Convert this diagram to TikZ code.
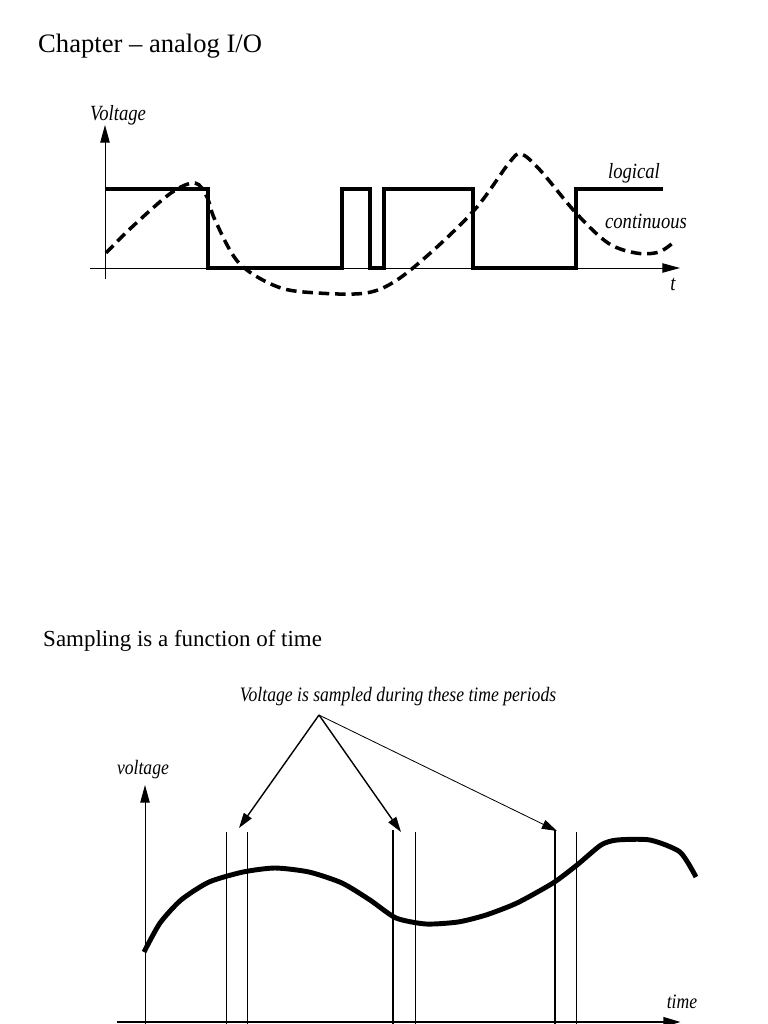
\documentclass[tikz,border=0pt]{standalone}
\usepackage{fontspec}
\setmainfont{Liberation Serif}
\newfontfamily\narrowfont[FakeStretch=0.86]{Liberation Serif}
\usetikzlibrary{arrows.meta}
\tikzset{
  axisline/.style={line width=0.8pt, -{Triangle[length=15pt, width=8pt]}},
  logicline/.style={line width=3.4pt, line join=miter},
  contline/.style={line width=3pt, dash pattern=on 9pt off 5pt},
  sampleline/.style={line width=0.8pt},
  sampleedge/.style={line width=2pt},
  pointer/.style={line width=1.2pt, -{Triangle[length=13pt, width=8pt]}},
  lbl/.style={font=\narrowfont\fontsize{18.5}{20}\selectfont\itshape, inner sep=0pt},
  smalllbl/.style={font=\narrowfont\fontsize{17.5}{20}\selectfont\itshape, inner sep=0pt},
  heading/.style={anchor=base west, inner sep=0pt}
}

\begin{document}
\begin{tikzpicture}[x=0.03cm, y=-0.03cm]
			%%%%% START %%%%%
			\useasboundingbox (0, 0) rectangle (768, 1024);
			
			\node[heading, font=\fontsize{22.7}{26}\selectfont] (chapter) at (38, 52) {Chapter -- analog I/O};
			
			% logical vs continuous
			\coordinate (vbot) at (105, 279);
			\coordinate (vtop) at (105, 125);
			\coordinate (tleft) at (90, 268);
			\coordinate (tright) at (680, 268);
			\draw[axisline] (vbot) -- (vtop);
			\draw[axisline] (tleft) -- (tright);
			\node[lbl] (voltlbl) at (118, 115) {Voltage};
			\node[lbl] (tlbl) at (673, 284) {t};
			
			\draw[logicline] (105, 189) -- (208, 189) -- (208, 268) -- (342, 268) -- (342, 189)
				-- (370, 189) -- (370, 268) -- (384, 268) -- (384, 189) -- (473, 189)
				-- (473, 268) -- (576, 268) -- (576, 189) -- (663, 189);
			\draw[contline] plot[smooth, tension=0.55] coordinates {(106, 253) (132, 227) (171, 193)
				(195, 183) (207, 197) (215, 220) (239, 263) (278, 287) (318, 293) (366, 293)
				(397, 280) (437, 247) (477, 207) (509, 163) (521, 154) (540, 170) (576, 213)
				(608, 243) (636, 253) (659, 252) (675, 241)};
			\node[lbl] (logiclbl) at (634, 173) {logical};
			\node[lbl] (contlbl) at (646, 221) {continuous};
			
			% sampling
			\node[heading, font=\fontsize{19.6}{24}\selectfont] (sampling) at (43, 646) {Sampling is a function of time};
			
			\node[smalllbl] (periods) at (398, 697) {Voltage is sampled during these time periods};
			\coordinate (src) at (319, 715);
			
			\coordinate (ybot) at (145, 1024);
			\coordinate (ytop) at (145, 785);
			\coordinate (xleft) at (117, 1022);
			\coordinate (xright) at (681, 1022);
			\draw[axisline] (ybot) -- (ytop);
			\draw[axisline, line width=2.4pt] (xleft) -- (xright);
			\node[smalllbl] (vlbl) at (143, 770) {voltage};
			\node[smalllbl] (timelbl) at (682, 1002) {time};
			
			\foreach \x in {226, 247, 415, 576}
				\draw[sampleline] (\x, 832) -- (\x, 1024);
			\foreach \x in {393, 555}
				\draw[sampleedge] (\x, 830) -- (\x, 1024);
			
			\coordinate (tipa) at (239, 828);
			\coordinate (tipb) at (401, 832);
			\coordinate (tipc) at (557, 831);
			\draw[pointer] (src) -- (tipa);
			\draw[pointer] (src) -- (tipb);
			\draw[pointer, line width=0.7pt] (src) -- (tipc);
			
			\draw[line width=4.2pt, line join=round] plot[smooth, tension=0.4] coordinates {(144, 952) (160, 923)
				(181, 900) (209, 882) (243, 872) (275, 868) (309, 872) (342, 883) (370, 900)
				(396, 918) (426, 924) (458, 922) (486, 915) (517, 903) (553, 883) (577, 865)
				(601, 845) (617, 840) (650, 840) (680, 852) (696, 877)};
			
			%%%%% END %%%%%
		\end{tikzpicture}
\end{document}
